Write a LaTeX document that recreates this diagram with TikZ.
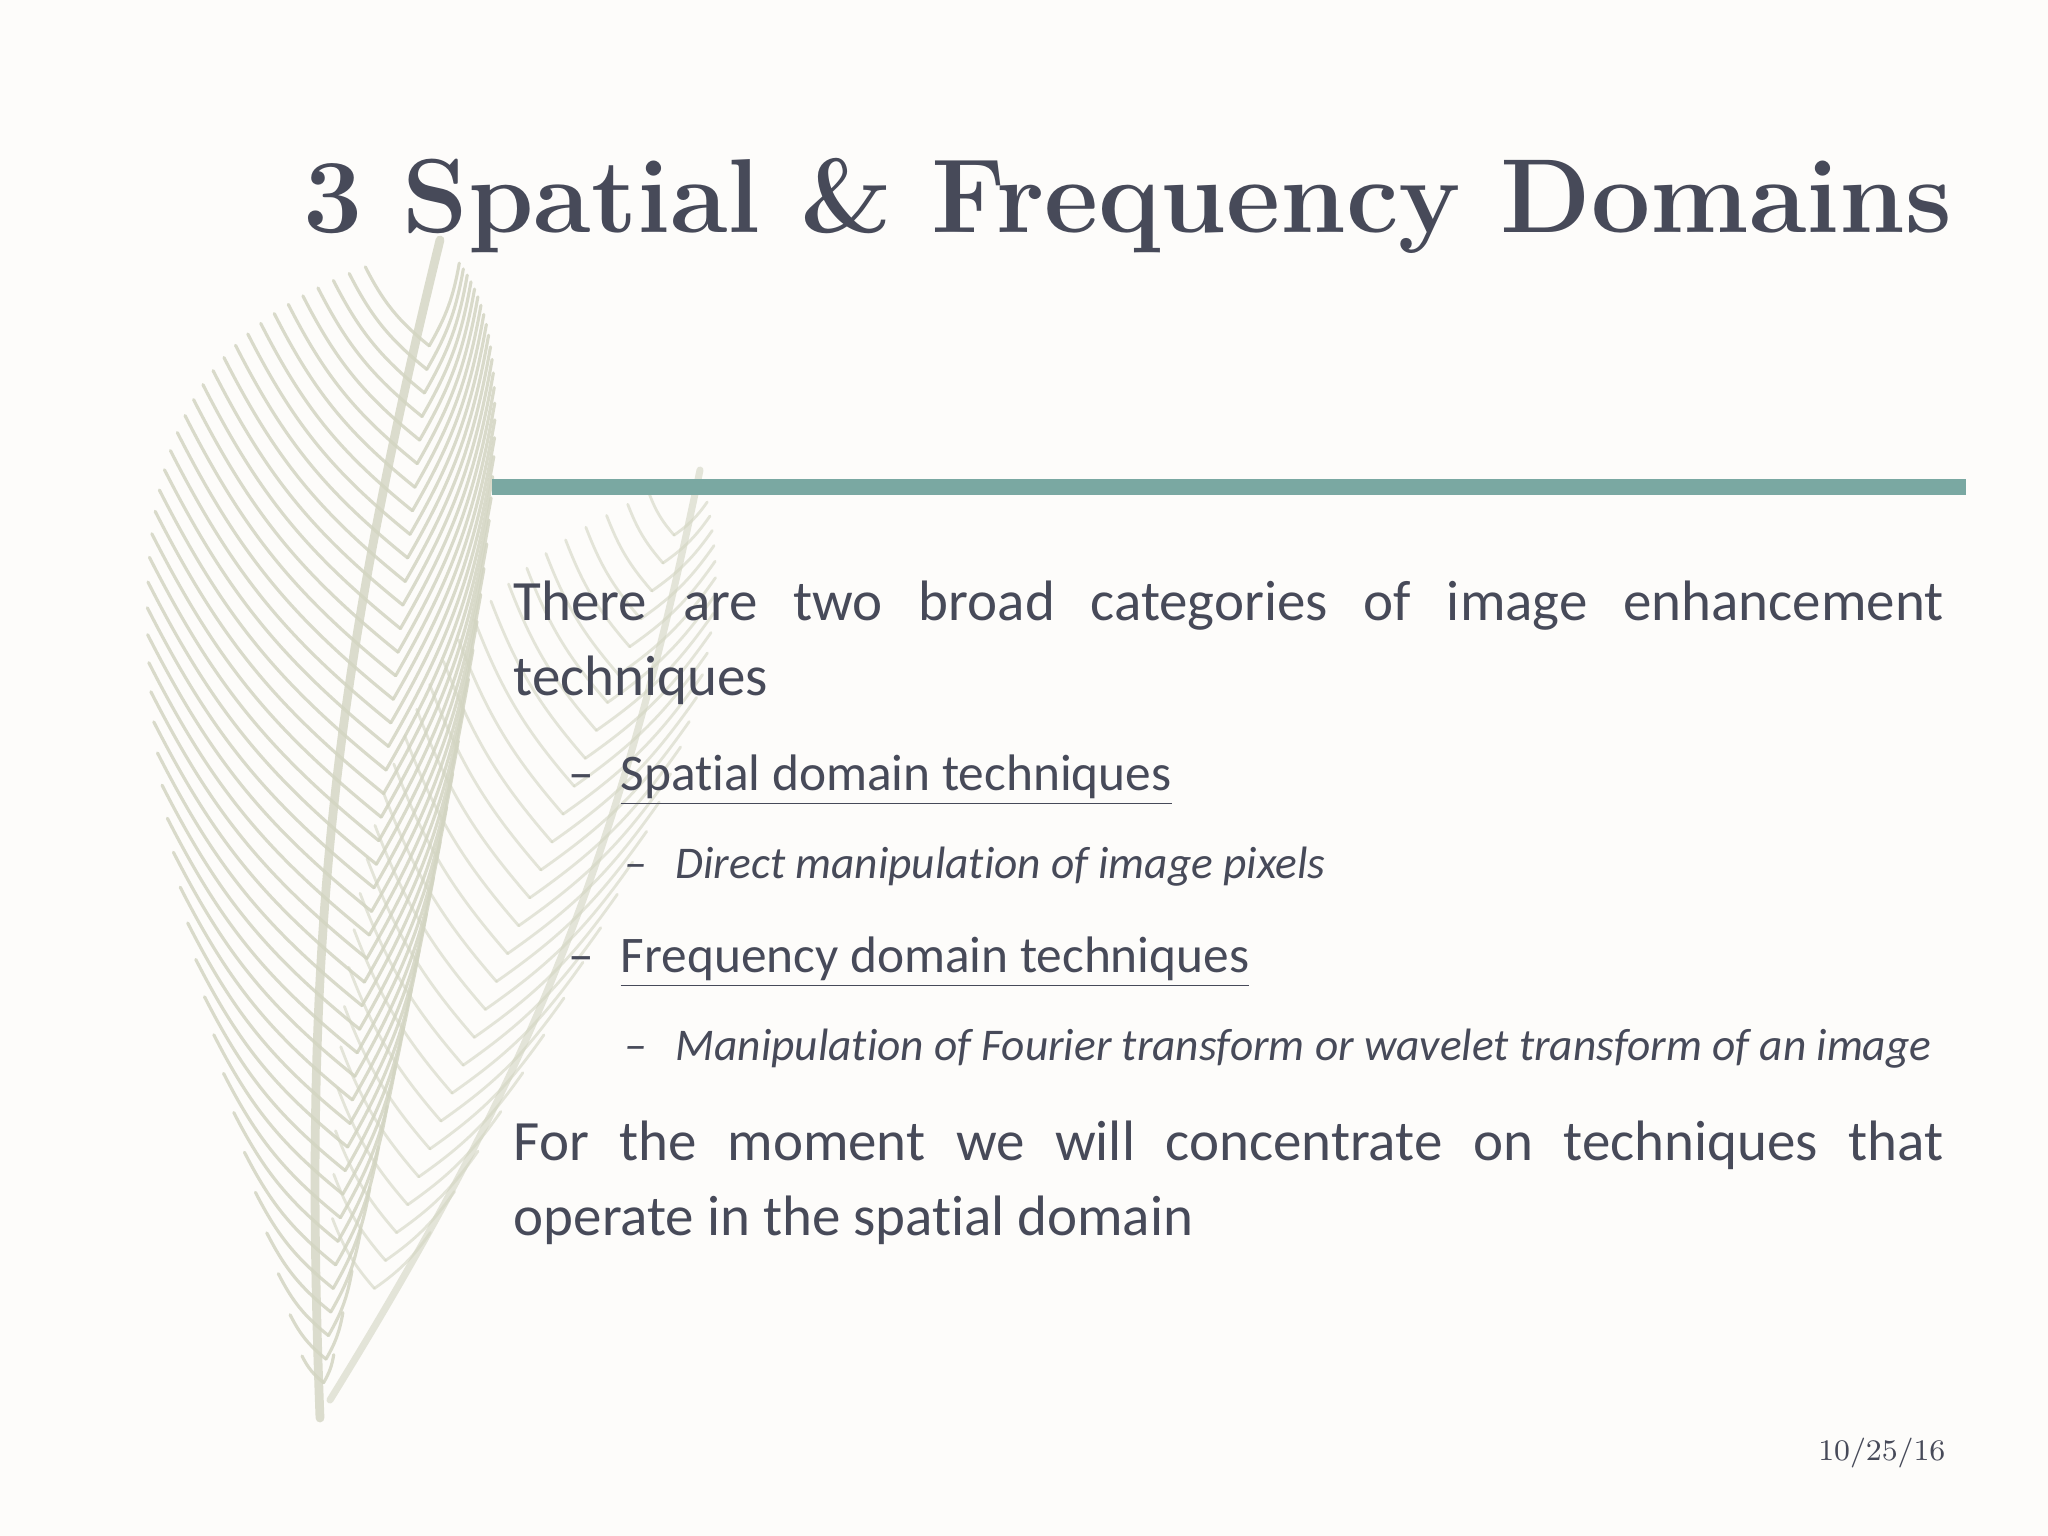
\documentclass[tikz,border=0pt]{standalone}
\usepackage{fontspec}
\setmainfont[Ligatures=NoCommon]{Carlito}
\newfontfamily\titlefont{Latin Modern Roman}
\usetikzlibrary{calc}
\definecolor{bg}{HTML}{FDFCFA}
\definecolor{txt}{HTML}{474A59}
\definecolor{teal}{HTML}{7AA8A2}
\definecolor{fea}{HTML}{D3D5C2}
\tikzset{
  feather/.style={draw=fea,line width=1.6pt,line cap=round},
  body/.style={inner sep=0pt,text=txt,font=\fontsize{14.6pt}{20.5pt}\selectfont,anchor=base west},
  bodypar/.style={body,font=\fontsize{16.2pt}{21.6pt}\selectfont,text width=14.29cm,align=justify},
  sub/.style={body},
  subsub/.style={body,font=\fontsize{12.9pt}{17pt}\selectfont\itshape}
}
\begin{document}
\begin{tikzpicture}[x={(0.01cm,0)},y={(0,-0.01cm)}]
\fill[bg] (0,0) rectangle (2048,1536);
\useasboundingbox (0,0) rectangle (2048,1536);
% feathers
\coordinate (q1) at (320,1418);
\coordinate (q2) at (440,240);
\coordinate (r1) at (330,1400);
\coordinate (r2) at (700,470);
\draw[feather,line width=2.5pt,opacity=0.8] (q1) to[bend left=8] (q2);
\draw[feather,line width=2pt,opacity=0.6] (r1) to[bend right=10] (r2);
\foreach \t in {0.03,0.05,...,0.93}{
  \pgfmathsetmacro\L{270*sin(\t*180)}
  \draw[feather,line width=0.9pt,opacity=0.85] ($(q1)!\t!(q2)$) to[bend left=12] ++(-0.85*\L,-1.05*\L);
  \draw[feather,line width=0.9pt,opacity=0.85] ($(q1)!\t!(q2)$) to[bend right=10] ++(0.4*\L,-1.1*\L);
}
\foreach \t in {0.12,0.15,...,0.95}{
  \pgfmathsetmacro\L{190*sin(\t*180)}
  \draw[feather,line width=0.8pt,opacity=0.6] ($(r1)!\t!(r2)$) to[bend left=10] ++(-0.6*\L,-1.0*\L);
  \draw[feather,line width=0.8pt,opacity=0.6] ($(r1)!\t!(r2)$) to[bend right=10] ++(0.8*\L,-0.8*\L);
}
% title
\node[inner sep=0pt,anchor=base west,text=txt,font=\titlefont\bfseries\fontsize{29.9pt}{34pt}\selectfont] (title) at (303,232) {3 Spatial \& Frequency Domains};
\draw[teal,line width=4.5pt] (492,487) -- (1966,487) coordinate (lineend);
% body
\node[bodypar] (p1) at (513,620) {There are two broad categories of image enhancement\linebreak techniques};
\node[sub] (d1) at (568,790) {–};
\node[sub] (s1) at (620,790) {\underline{Spatial domain techniques}};
\node[subsub] (d2) at (624,878) {–};
\node[subsub] (s2) at (675,878) {Direct manipulation of image pixels};
\node[sub] (d3) at (568,972) {–};
\node[sub] (s3) at (620,972) {\underline{Frequency domain techniques}};
\node[subsub] (d4) at (624,1060) {–};
\node[subsub] (s4) at (675,1060) {Manipulation of Fourier transform or wavelet transform of an image};
\node[bodypar] (p2) at (513,1160) {For the moment we will concentrate on techniques that\linebreak operate in the spatial domain};
\node[inner sep=0pt,anchor=base east,text=txt,font=\titlefont\fontsize{8.5pt}{10pt}\selectfont] (date) at (1946,1460) {10/25/16};
\end{tikzpicture}
\end{document}
